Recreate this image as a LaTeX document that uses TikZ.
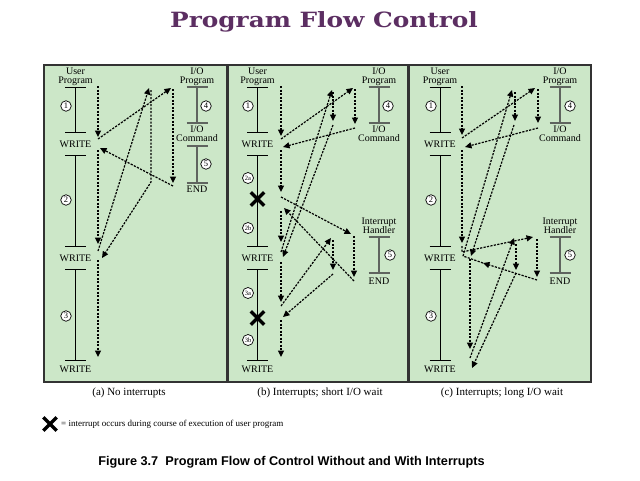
\documentclass[tikz,border=0pt]{standalone}
\usepackage{fontspec}
\setmainfont{Liberation Serif}
\newfontfamily\titlefont{DejaVu Serif}
\newfontfamily\capfont{Liberation Sans}
\usetikzlibrary{arrows.meta,shapes.misc}
\definecolor{pgreen}{RGB}{204,231,200}
\definecolor{ptitle}{RGB}{92,46,98}
\definecolor{iogray}{RGB}{95,100,95}
\tikzset{
 panel/.style={draw=black!80, line width=1.2pt, fill=pgreen},
 lab/.style={font=\fontsize{10}{9.3}\selectfont, align=center, inner sep=0pt},
 num/.style={circle, draw=black, fill=white, line width=0.7pt, inner sep=0pt, minimum size=10.5pt, font=\fontsize{8.5}{8.5}\selectfont},
 numsm/.style={num, minimum size=11pt, font=\fontsize{6.5}{6.5}\selectfont},
 uline/.style={line width=0.8pt, draw=black},
 ioline/.style={line width=1.1pt, draw=iogray},
 flow/.style={line width=1.2pt, dash pattern=on 2.2pt off 1.3pt, -{Triangle[length=6.5pt,width=6pt]}},
 flowplain/.style={line width=1.2pt, dash pattern=on 2.2pt off 1.3pt},
 xmk/.style={cross out, draw=black, line width=3.4pt, minimum size=10pt, inner sep=0pt},
 subcap/.style={font=\fontsize{11}{11}\selectfont, inner sep=0pt},
}
\begin{document}
\begin{tikzpicture}[x=1pt,y=-1pt]
\useasboundingbox[fill=white] (0,0) rectangle (640,480);
% title
\node[font=\titlefont\bfseries\fontsize{21}{21}\selectfont, text=ptitle, xscale=1.18] (title) at (324,22) {Program Flow Control};
% panels
\node[panel, minimum width=183pt, minimum height=317pt, inner sep=0pt] (pa) at (135.5,223.5) {};
\node[panel, minimum width=180pt, minimum height=317pt, inner sep=0pt] (pb) at (318,223.5) {};
\node[panel, minimum width=182pt, minimum height=317pt, inner sep=0pt] (pc) at (500,223.5) {};
% user program columns
\foreach \ux in {75.5, 257.5, 440}{
  \draw[uline] (\ux,87) -- (\ux,132) (\ux,155) -- (\ux,246) (\ux,269) -- (\ux,360);
  \foreach \ty in {87,132,155,246,269,360}{\draw[uline] (\ux-10.5,\ty) -- (\ux+10.5,\ty);}
}
\node[lab] (uaa) at (75.5,76.5) {User\\Program};
\node[lab] (uab) at (257.5,76.5) {User\\Program};
\node[lab] (uac) at (440,76.5) {User\\Program};
\foreach \ux/\p in {75.5/a, 257.5/b, 440/c}{
  \node[lab] (w1\p) at (\ux,144) {WRITE};
  \node[lab] (w2\p) at (\ux,258) {WRITE};
  \node[lab] (w3\p) at (\ux,369) {WRITE};
}
% circled numbers
\node[num] (n1a) at (66,106) {1};
\node[num] (n2a) at (66,200) {2};
\node[num] (n3a) at (66,316) {3};
\node[num] (n1b) at (248,106) {1};
\node[numsm] (n2ab) at (248,178) {2a};
\node[numsm] (n2bb) at (248,228) {2b};
\node[numsm] (n3ab) at (248,293) {3a};
\node[numsm] (n3bb) at (248,340) {3b};
\node[num] (n1c) at (431,106) {1};
\node[num] (n2c) at (431,200) {2};
\node[num] (n3c) at (431,316) {3};
% interrupt marks
\node[xmk] (x1) at (257.5,199) {};
\node[xmk] (x2) at (257.5,318) {};
% I/O program columns
\draw[ioline] (197,87) -- (197,123) (197,146) -- (197,183);
\foreach \ty in {87,123,146,183}{\draw[ioline] (186.5,\ty) -- (207.5,\ty);}
\foreach \ix in {379,560}{
  \draw[ioline] (\ix,87) -- (\ix,123) (\ix,237) -- (\ix,273);
  \foreach \ty in {87,123,237,273}{\draw[ioline] (\ix-10.5,\ty) -- (\ix+10.5,\ty);}
}
\node[lab] (ioa) at (197,76.5) {I/O\\Program};
\node[lab] (cma) at (197,133.5) {I/O\\Command};
\node[lab] (enda) at (197,189.5) {END};
\node[num] (n4a) at (206,106) {4};
\node[num] (n5a) at (206,164) {5};
\node[lab] (iob) at (379,76.5) {I/O\\Program};
\node[lab] (cmb) at (379,133.5) {I/O\\Command};
\node[num] (n4b) at (388,106) {4};
\node[lab] (ihb) at (379,226) {Interrupt\\Handler};
\node[lab] (endb) at (379,281) {END};
\node[num] (n5b) at (390,255) {5};
\node[lab] (ioc) at (560,76.5) {I/O\\Program};
\node[lab] (cmc) at (560,133.5) {I/O\\Command};
\node[num] (n4c) at (570,106) {4};
\node[lab] (ihc) at (560,226) {Interrupt\\Handler};
\node[lab] (endc) at (560,281) {END};
\node[num] (n5c) at (570,255) {5};
% sub captions
\node[subcap] (ca) at (129,393) {(a) No interrupts};
\node[subcap] (cb) at (320,393) {(b) Interrupts; short I/O wait};
\node[subcap] (cc) at (502,393) {(c) Interrupts; long I/O wait};
% ---------- flow coordinates, panel a
\coordinate (a0) at (98,86);   \coordinate (a1) at (98,137);
\coordinate (a2) at (98,139);  \coordinate (a3) at (171,88);
\coordinate (a4) at (173,89);  \coordinate (a5) at (173,183);
\coordinate (a6) at (173,186); \coordinate (a7) at (100,148);
\coordinate (a8) at (98,150);  \coordinate (a9) at (98,244);
\coordinate (a10) at (98,251); \coordinate (a11) at (149,88);
\coordinate (a12) at (151,90); \coordinate (a13) at (151,182); \coordinate (a14) at (102,258);
\coordinate (a15) at (98,260); \coordinate (a16) at (98,357);
\draw[flow] (a0) -- (a1);
\draw[flow] (a2) -- (a3);
\draw[flow] (a4) -- (a5);
\draw[flow] (a6) -- (a7);
\draw[flow] (a8) -- (a9);
\draw[flow] (a10) -- (a11);
\draw[flow] (a12) -- (a13) -- (a14);
\draw[flow] (a15) -- (a16);
% ---------- panel b
\coordinate (b0) at (281,86);   \coordinate (b1) at (281,136);
\coordinate (b2) at (281,139);  \coordinate (b3) at (353,88);
\coordinate (b4) at (355,89);   \coordinate (b5) at (355,124);
\coordinate (b6) at (355,128);  \coordinate (b7) at (283,147);
\coordinate (b8) at (281,150);  \coordinate (b9) at (281,192);
\coordinate (b10) at (281,197); \coordinate (b11) at (351,234);
\coordinate (b12) at (354,236); \coordinate (b13) at (354,277);
\coordinate (b14) at (354,281); \coordinate (b15) at (284,208);
\coordinate (b16) at (281,211); \coordinate (b17) at (281,242);
\coordinate (b18) at (281,252); \coordinate (b19) at (332,90);
\coordinate (b20) at (333,92);  \coordinate (b21) at (333,121);
\coordinate (b22) at (333,125); \coordinate (b23) at (283,257);
\coordinate (b24) at (281,262); \coordinate (b25) at (281,302);
\coordinate (b26) at (281,306); \coordinate (b27) at (331,238);
\coordinate (b28) at (333,240); \coordinate (b29) at (333,270);
\coordinate (b30) at (333,274); \coordinate (b31) at (283,317);
\coordinate (b32) at (281,320); \coordinate (b33) at (281,357);
\foreach \s/\e in {b0/b1,b2/b3,b4/b5,b6/b7,b8/b9,b10/b11,b12/b13,b14/b15,b16/b17,b18/b19,b20/b21,b22/b23,b24/b25,b26/b27,b28/b29,b30/b31,b32/b33}{
  \draw[flow] (\s) -- (\e);
}
% ---------- panel c
\coordinate (c0) at (462,86);   \coordinate (c1) at (462,135);
\coordinate (c2) at (462,138);  \coordinate (c3) at (535,88);
\coordinate (c4) at (538,89);   \coordinate (c5) at (538,123);
\coordinate (c6) at (538,128);  \coordinate (c7) at (465,147);
\coordinate (c8) at (462,150);  \coordinate (c9) at (462,243);
\coordinate (c10) at (462,246); \coordinate (c11) at (462,252); \coordinate (c12) at (533,237);
\coordinate (c13) at (537,239); \coordinate (c14) at (537,277);
\coordinate (c15) at (537,280); \coordinate (c16) at (483,263); \coordinate (c17) at (463,256);
\coordinate (c18) at (512,90);
\coordinate (c19) at (515,92);  \coordinate (c20) at (515,121);
\coordinate (c21) at (514,125); \coordinate (c22) at (471,256);
\coordinate (c23) at (470,259); \coordinate (c24) at (470,349);
\coordinate (c25) at (470,358); \coordinate (c26) at (514,238);
\coordinate (c27) at (516,244); \coordinate (c28) at (516,270);
\coordinate (c29) at (516,273); \coordinate (c30) at (472,368);
\foreach \s/\e in {c0/c1,c2/c3,c4/c5,c6/c7,c8/c9,c13/c14,c15/c16,c17/c18,c19/c20,c21/c22,c23/c24,c25/c26,c27/c28,c29/c30}{
  \draw[flow] (\s) -- (\e);
}
\draw[flow] (c10) -- (c11) -- (c12);
\draw[flowplain] (c16) -- (c17);
% legend
\node[xmk, minimum size=10pt] (xl) at (50,424) {};
\node[anchor=west, inner sep=0pt, font=\fontsize{9}{9}\selectfont] (legend) at (61,424.5) {= interrupt occurs during course of execution of user program};
% figure caption
\node[font=\capfont\bfseries\fontsize{12.7}{12.7}\selectfont] (figcap) at (291.5,462) {Figure 3.7\ \ Program Flow of Control Without and With Interrupts};
\end{tikzpicture}
\end{document}
